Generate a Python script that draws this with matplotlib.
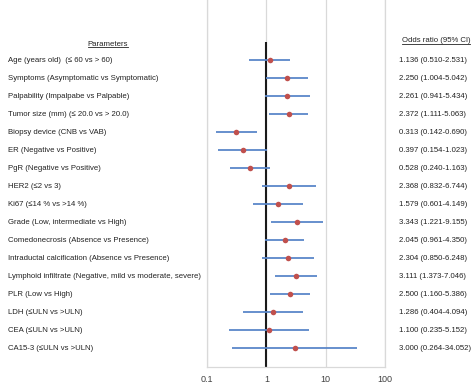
import matplotlib
matplotlib.use("Agg")
import matplotlib.pyplot as plt
import matplotlib.transforms as mtrans
from matplotlib.lines import Line2D
import numpy as np

labels = [
    "Age (years old)  (\u2264 60 vs > 60)",
    "Symptoms (Asymptomatic vs Symptomatic)",
    "Palpability (Impalpabe vs Palpable)",
    "Tumor size (mm) (\u2264 20.0 vs > 20.0)",
    "Biopsy device (CNB vs VAB)",
    "ER (Negative vs Positive)",
    "PgR (Negative vs Positive)",
    "HER2 (\u22642 vs 3)",
    "Ki67 (\u226414 % vs >14 %)",
    "Grade (Low, intermediate vs High)",
    "Comedonecrosis (Absence vs Presence)",
    "Intraductal calcification (Absence vs Presence)",
    "Lymphoid infiltrate (Negative, mild vs moderate, severe)",
    "PLR (Low vs High)",
    "LDH (\u2264ULN vs >ULN)",
    "CEA (\u2264ULN vs >ULN)",
    "CA15-3 (\u2264ULN vs >ULN)",
]
odds = [1.136, 2.250, 2.261, 2.372, 0.313, 0.397, 0.528, 2.368, 1.579, 3.343,
        2.045, 2.304, 3.111, 2.500, 1.286, 1.100, 3.000]
ci_low = [0.510, 1.004, 0.941, 1.111, 0.142, 0.154, 0.240, 0.832, 0.601, 1.221,
          0.961, 0.850, 1.373, 1.160, 0.404, 0.235, 0.264]
ci_high = [2.531, 5.042, 5.434, 5.063, 0.690, 1.023, 1.163, 6.744, 4.149, 9.155,
           4.350, 6.248, 7.046, 5.386, 4.094, 5.152, 34.052]
or_texts = [
    "1.136 (0.510-2.531)", "2.250 (1.004-5.042)", "2.261 (0.941-5.434)",
    "2.372 (1.111-5.063)", "0.313 (0.142-0.690)", "0.397 (0.154-1.023)",
    "0.528 (0.240-1.163)", "2.368 (0.832-6.744)", "1.579 (0.601-4.149)",
    "3.343 (1.221-9.155)", "2.045 (0.961-4.350)", "2.304 (0.850-6.248)",
    "3.111 (1.373-7.046)", "2.500 (1.160-5.386)", "1.286 (0.404-4.094)",
    "1.100 (0.235-5.152)", "3.000 (0.264-34.052)",
]
xticks = [0.1, 1, 10, 100]
xtick_labels = ["0.1", "1", "10", "100"]

plt.rcParams['font.family'] = ['Liberation Sans Narrow', 'Liberation Sans', 'DejaVu Sans']

W, H = 474, 387
fig = plt.figure(figsize=(W / 100, H / 100), dpi=100)
ax = fig.add_axes([207 / W, 20 / H, (385 - 207) / W, (H - 20) / H])

n = len(labels)
y = np.arange(n)
ax.set_xscale('log')
ax.set_xlim(0.1, 100)
ax.set_ylim((367 - 60) / 18, -60 / 18)

for xv in xticks:
    ax.axvline(xv, color='#d9d9d9', lw=0.9, zorder=0)

ax.vlines(1, -1.0, (367 - 60) / 18, color='#1a1a1a', lw=1.5, zorder=2)

odds_a = np.array(odds)
xerr = [odds_a - np.array(ci_low), np.array(ci_high) - odds_a]
ax.errorbar(odds, y, xerr=xerr, fmt='none', ecolor='#5b87c9', elinewidth=1.3, capsize=0, zorder=3)
ax.plot(odds, y, 'o', color='#c0504d', ms=4, zorder=4, markeredgewidth=0)

ax.set_xticks(xticks)
ax.set_xticklabels(xtick_labels)
ax.xaxis.set_minor_locator(matplotlib.ticker.NullLocator())
ax.tick_params(axis='x', length=0, labelsize=6.5, colors='#404040', pad=6)
ax.set_yticks([])
for s in ['left', 'right', 'bottom']:
    ax.spines[s].set_color('#d9d9d9')
    ax.spines[s].set_linewidth(0.9)
ax.spines['top'].set_visible(False)

renderer = fig.canvas.get_renderer()


def fit_size(txt, target_px, base=6.5):
    t = fig.text(0, 0, txt, fontsize=base)
    w = t.get_window_extent(renderer).width
    t.remove()
    return base * target_px / w


fs_left = fit_size(labels[12], 192)
fs_right = fit_size(or_texts[0], 68)

tr = mtrans.blended_transform_factory(fig.transFigure, ax.transData)
for i in range(n):
    fig.text(8 / W, i, labels[i], transform=tr, fontsize=fs_left, va='center', ha='left', color='#222222')
    fig.text(399 / W, i, or_texts[i], transform=tr, fontsize=fs_right, va='center', ha='left', color='#222222')

headers = [(108, 44, "Parameters", fs_left), (436, 41, "Odds ratio (95% CI)", fs_right)]
for xc, yc, txt, fs in headers:
    t = fig.text(xc / W, (yc - 60) / 18, txt, transform=tr, fontsize=fs, va='center', ha='center',
                 color='#222222')
    bb = t.get_window_extent(renderer)
    yline = bb.y0 + 0.5
    fig.add_artist(Line2D([bb.x0 / W, bb.x1 / W], [yline / H, yline / H], transform=fig.transFigure,
                          color='#222222', lw=0.6))

fig.savefig("out.png", dpi=100)
